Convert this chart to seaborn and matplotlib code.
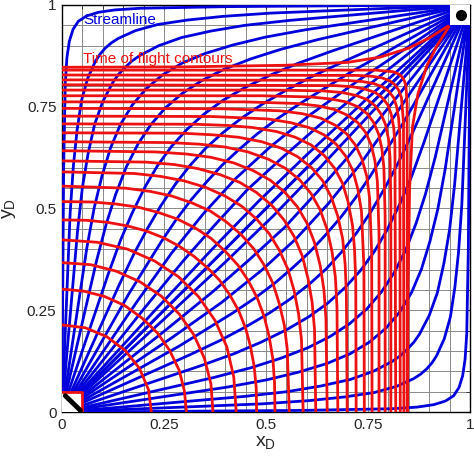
import numpy as np
import pandas as pd
import matplotlib
matplotlib.use("Agg")
import matplotlib.pyplot as plt
import seaborn as sns

sns.set_style("white")
plt.rcParams['font.family'] = ['Liberation Sans', 'DejaVu Sans']

# streamlines below the diagonal, from the injector cell out to the line x+y=1
# (the pattern is symmetric about x+y=1 and about y=x, the rest is mirrored)
stream_x = [
    [0.050, 0.594, 0.808, 0.870, 0.911, 0.940, 0.960],
    [0.050, 0.490, 0.606, 0.693, 0.766, 0.820, 0.862, 0.879, 0.894],
    [0.052, 0.444, 0.552, 0.635, 0.707, 0.763, 0.809, 0.829, 0.846],
    [0.052, 0.404, 0.502, 0.580, 0.649, 0.706, 0.754, 0.794],
    [0.051, 0.373, 0.464, 0.536, 0.603, 0.658, 0.705, 0.747],
    [0.050, 0.338, 0.421, 0.489, 0.552, 0.605, 0.652, 0.694],
    [0.051, 0.312, 0.388, 0.450, 0.508, 0.560, 0.606, 0.648],
    [0.050, 0.289, 0.418, 0.473, 0.522, 0.566, 0.607],
    [0.050, 0.270, 0.391, 0.489, 0.574],
    [0.051, 0.255, 0.370, 0.460, 0.546],
    [0.051, 0.250, 0.400, 0.518],
    [0.050, 0.500],
]
stream_y = [
    [0.000, 0.004, 0.008, 0.012, 0.018, 0.027, 0.040],
    [0.002, 0.020, 0.028, 0.037, 0.048, 0.063, 0.082, 0.093, 0.106],
    [0.004, 0.038, 0.050, 0.064, 0.080, 0.100, 0.124, 0.138, 0.154],
    [0.008, 0.061, 0.079, 0.098, 0.119, 0.143, 0.172, 0.206],
    [0.011, 0.085, 0.109, 0.132, 0.158, 0.186, 0.217, 0.253],
    [0.016, 0.113, 0.143, 0.172, 0.203, 0.234, 0.268, 0.306],
    [0.023, 0.140, 0.176, 0.209, 0.243, 0.278, 0.314, 0.352],
    [0.028, 0.163, 0.243, 0.280, 0.317, 0.355, 0.393],
    [0.034, 0.183, 0.269, 0.348, 0.426],
    [0.040, 0.202, 0.296, 0.375, 0.454],
    [0.046, 0.228, 0.368, 0.482],
    [0.050, 0.500],
]

# time of flight contours, from the x axis round to the y axis
tof_x = [
    [0.219, 0.212, 0.190, 0.155, 0.110, 0.057, 0.0],
    [0.305, 0.300, 0.287, 0.264, 0.234, 0.196, 0.153, 0.104, 0.053, 0.0],
    [0.370, 0.365, 0.349, 0.323, 0.287, 0.243, 0.191, 0.133, 0.070, 0.0],
    [0.427, 0.421, 0.404, 0.375, 0.335, 0.286, 0.227, 0.161, 0.087, 0.0],
    [0.477, 0.476, 0.471, 0.462, 0.450, 0.433, 0.411, 0.386, 0.357, 0.324, 0.288, 0.249,
     0.206, 0.161, 0.112, 0.060, 0.0],
    [0.522, 0.521, 0.517, 0.508, 0.496, 0.479, 0.457, 0.431, 0.400, 0.366, 0.327, 0.283,
     0.237, 0.188, 0.133, 0.074, 0.0],
    [0.557, 0.552, 0.545, 0.533, 0.517, 0.496, 0.470, 0.439, 0.403, 0.363, 0.318, 0.268,
     0.216, 0.155, 0.0],
    [0.591, 0.587, 0.580, 0.569, 0.554, 0.533, 0.508, 0.476, 0.440, 0.399, 0.352, 0.299,
     0.241, 0.177, 0.0],
    [0.622, 0.619, 0.613, 0.603, 0.589, 0.569, 0.544, 0.514, 0.477, 0.436, 0.388, 0.333,
     0.275, 0.206, 0.0],
    [0.650, 0.647, 0.642, 0.633, 0.619, 0.601, 0.577, 0.547, 0.511, 0.469, 0.421, 0.364,
     0.304, 0.230, 0.0],
    [0.676, 0.674, 0.670, 0.662, 0.650, 0.633, 0.611, 0.582, 0.547, 0.506, 0.456, 0.400,
     0.338, 0.263, 0.0],
    [0.699, 0.697, 0.694, 0.688, 0.676, 0.660, 0.639, 0.612, 0.578, 0.538, 0.490, 0.433,
     0.370, 0.295, 0.0],
    [0.721, 0.720, 0.717, 0.712, 0.701, 0.688, 0.668, 0.643, 0.611, 0.572, 0.526, 0.467,
     0.407, 0.328, 0.0],
    [0.741, 0.740, 0.734, 0.725, 0.713, 0.695, 0.672, 0.642, 0.605, 0.560, 0.505, 0.368, 0.0],
    [0.760, 0.759, 0.754, 0.747, 0.735, 0.719, 0.697, 0.669, 0.634, 0.589, 0.535, 0.397, 0.0],
    [0.777, 0.777, 0.773, 0.767, 0.758, 0.744, 0.725, 0.700, 0.669, 0.629, 0.577, 0.447, 0.0],
    [0.792, 0.792, 0.789, 0.784, 0.776, 0.764, 0.748, 0.725, 0.696, 0.659, 0.611, 0.489, 0.0],
    [0.806, 0.806, 0.804, 0.800, 0.793, 0.782, 0.767, 0.747, 0.720, 0.686, 0.640, 0.521, 0.0],
    [0.818, 0.816, 0.813, 0.807, 0.799, 0.785, 0.768, 0.744, 0.713, 0.670, 0.0],
    [0.829, 0.828, 0.825, 0.820, 0.813, 0.801, 0.785, 0.764, 0.736, 0.695, 0.0],
    [0.838, 0.837, 0.832, 0.825, 0.816, 0.803, 0.784, 0.759, 0.724, 0.0],
    [0.846, 0.846, 0.843, 0.839, 0.833, 0.824, 0.812, 0.768, 0.0],
]
tof_y = [
    [0.0, 0.055, 0.107, 0.151, 0.185, 0.207, 0.214],
    [0.0, 0.052, 0.103, 0.151, 0.194, 0.231, 0.262, 0.284, 0.297, 0.302],
    [0.0, 0.069, 0.132, 0.190, 0.241, 0.285, 0.320, 0.346, 0.362, 0.367],
    [0.0, 0.086, 0.160, 0.225, 0.283, 0.332, 0.371, 0.400, 0.417, 0.423],
    [0.0, 0.060, 0.112, 0.161, 0.206, 0.249, 0.288, 0.324, 0.354, 0.382, 0.407, 0.428,
     0.445, 0.457, 0.466, 0.471, 0.472],
    [0.0, 0.070, 0.129, 0.184, 0.233, 0.279, 0.322, 0.361, 0.395, 0.426, 0.452, 0.474,
     0.490, 0.503, 0.511, 0.516, 0.517],
    [0.0, 0.155, 0.213, 0.265, 0.316, 0.360, 0.401, 0.436, 0.467, 0.494, 0.514, 0.531,
     0.542, 0.550, 0.555],
    [0.0, 0.177, 0.240, 0.298, 0.350, 0.397, 0.438, 0.475, 0.506, 0.531, 0.552, 0.568,
     0.579, 0.586, 0.590],
    [0.0, 0.202, 0.270, 0.328, 0.383, 0.431, 0.472, 0.508, 0.539, 0.564, 0.583, 0.598,
     0.608, 0.614, 0.617],
    [0.0, 0.228, 0.300, 0.359, 0.416, 0.463, 0.504, 0.539, 0.569, 0.593, 0.612, 0.626,
     0.634, 0.639, 0.642],
    [0.0, 0.258, 0.332, 0.393, 0.448, 0.496, 0.536, 0.571, 0.599, 0.621, 0.639, 0.651,
     0.658, 0.662, 0.664],
    [0.0, 0.289, 0.363, 0.425, 0.481, 0.528, 0.568, 0.600, 0.627, 0.648, 0.664, 0.675,
     0.681, 0.685, 0.686],
    [0.0, 0.322, 0.400, 0.459, 0.517, 0.561, 0.599, 0.630, 0.656, 0.675, 0.689, 0.699,
     0.704, 0.707, 0.708],
    [0.0, 0.357, 0.493, 0.548, 0.593, 0.629, 0.658, 0.681, 0.699, 0.711, 0.720, 0.726, 0.727],
    [0.0, 0.390, 0.525, 0.579, 0.622, 0.656, 0.684, 0.705, 0.722, 0.733, 0.740, 0.745, 0.746],
    [0.0, 0.438, 0.566, 0.617, 0.656, 0.687, 0.711, 0.729, 0.743, 0.752, 0.758, 0.762, 0.762],
    [0.0, 0.479, 0.600, 0.647, 0.683, 0.711, 0.733, 0.750, 0.762, 0.769, 0.774, 0.777, 0.777],
    [0.0, 0.511, 0.627, 0.672, 0.706, 0.732, 0.753, 0.768, 0.778, 0.785, 0.789, 0.791, 0.791],
    [0.0, 0.657, 0.699, 0.731, 0.754, 0.772, 0.785, 0.793, 0.799, 0.802, 0.804],
    [0.0, 0.683, 0.722, 0.751, 0.772, 0.788, 0.799, 0.807, 0.812, 0.815, 0.816],
    [0.0, 0.711, 0.772, 0.791, 0.804, 0.814, 0.821, 0.825, 0.827, 0.828],
    [0.0, 0.755, 0.801, 0.814, 0.824, 0.831, 0.836, 0.840, 0.840],
]

# last contour, past breakthrough: upper branch runs into the producer
late_x = [0.0, 0.30, 0.55, 0.70, 0.78, 0.85, 0.90, 0.946]
late_y = [0.847, 0.848, 0.852, 0.859, 0.872, 0.894, 0.919, 0.948]

rows = []
for i, (xs, ys) in enumerate(zip(stream_x, stream_y)):
    # mirror about x+y=1 to reach the producer
    full_x = xs + [1 - y for y in ys[::-1][1:]]
    full_y = ys + [1 - x for x in xs[::-1][1:]]
    for n, (x, y) in enumerate(zip(full_x, full_y)):
        rows.append(("lo%d" % i, n, x, y))
        rows.append(("up%d" % i, n, y, x))
stream = pd.DataFrame(rows, columns=["line", "order", "x", "y"])

rows = []
for i, (xs, ys) in enumerate(zip(tof_x, tof_y)):
    for n, (x, y) in enumerate(zip(xs, ys)):
        rows.append(("c%d" % i, n, x, y))
for n, (x, y) in enumerate(zip(late_x, late_y)):
    rows.append(("late_up", n, x, y))
    rows.append(("late_lo", n, y, x))
tof = pd.DataFrame(rows, columns=["line", "order", "x", "y"])

fig = plt.figure(figsize=(4.74, 4.61), dpi=100)
ax = fig.add_axes([62 / 474, 49 / 461, 408 / 474, 407 / 461])

sns.lineplot(data=stream, x="x", y="y", units="line", estimator=None, sort=False,
             color="#0000dd", lw=2.0, ax=ax, zorder=3)
sns.lineplot(data=tof, x="x", y="y", units="line", estimator=None, sort=False,
             color="#ee1111", lw=2.0, ax=ax, zorder=4)

# injector and producer cells
ax.add_patch(plt.Rectangle((0, 0), 0.05, 0.05, facecolor="white", edgecolor="none", zorder=5))
ax.plot([0, 0.05, 0.05], [0.05, 0.05, 0], color="#ee1111", lw=2.0, zorder=6)
ax.plot([0.008, 0.045], [0.040, 0.004], color="black", lw=3.5, zorder=6)
ax.add_patch(plt.Rectangle((0.95, 0.95), 0.05, 0.05, facecolor="white", edgecolor="none", zorder=5))
ax.plot([0.978], [0.975], "o", color="black", ms=7, zorder=6)

ax.text(0.052, 0.962, "Streamline", color="#0000dd", fontsize=11, va="center", zorder=7)
ax.text(0.052, 0.868, "Time of flight contours", color="#ee1111", fontsize=11,
        va="center", zorder=7)

ax.set_xlim(0, 1)
ax.set_ylim(0, 1)
ticks = [0, 0.25, 0.5, 0.75, 1]
labels = ["0", "0.25", "0.5", "0.75", "1"]
ax.set_xticks(ticks)
ax.set_xticklabels(labels)
ax.set_yticks(ticks)
ax.set_yticklabels(labels)
ax.set_xticks(np.arange(0, 1.001, 0.05), minor=True)
ax.set_yticks(np.arange(0, 1.001, 0.05), minor=True)
ax.grid(True, which="both", color="#8a8a8a", lw=0.7, zorder=1)
ax.set_axisbelow(True)
ax.tick_params(which="both", direction="in", top=True, right=True, length=3,
               labelsize=11, pad=4)
ax.set_xlabel(r"x$_\mathregular{D}$", fontsize=14, labelpad=2)
ax.set_ylabel(r"y$_\mathregular{D}$", fontsize=14, labelpad=6)
for s in ax.spines.values():
    s.set_color("black")
    s.set_linewidth(1.0)

fig.savefig("out.png", dpi=100)
